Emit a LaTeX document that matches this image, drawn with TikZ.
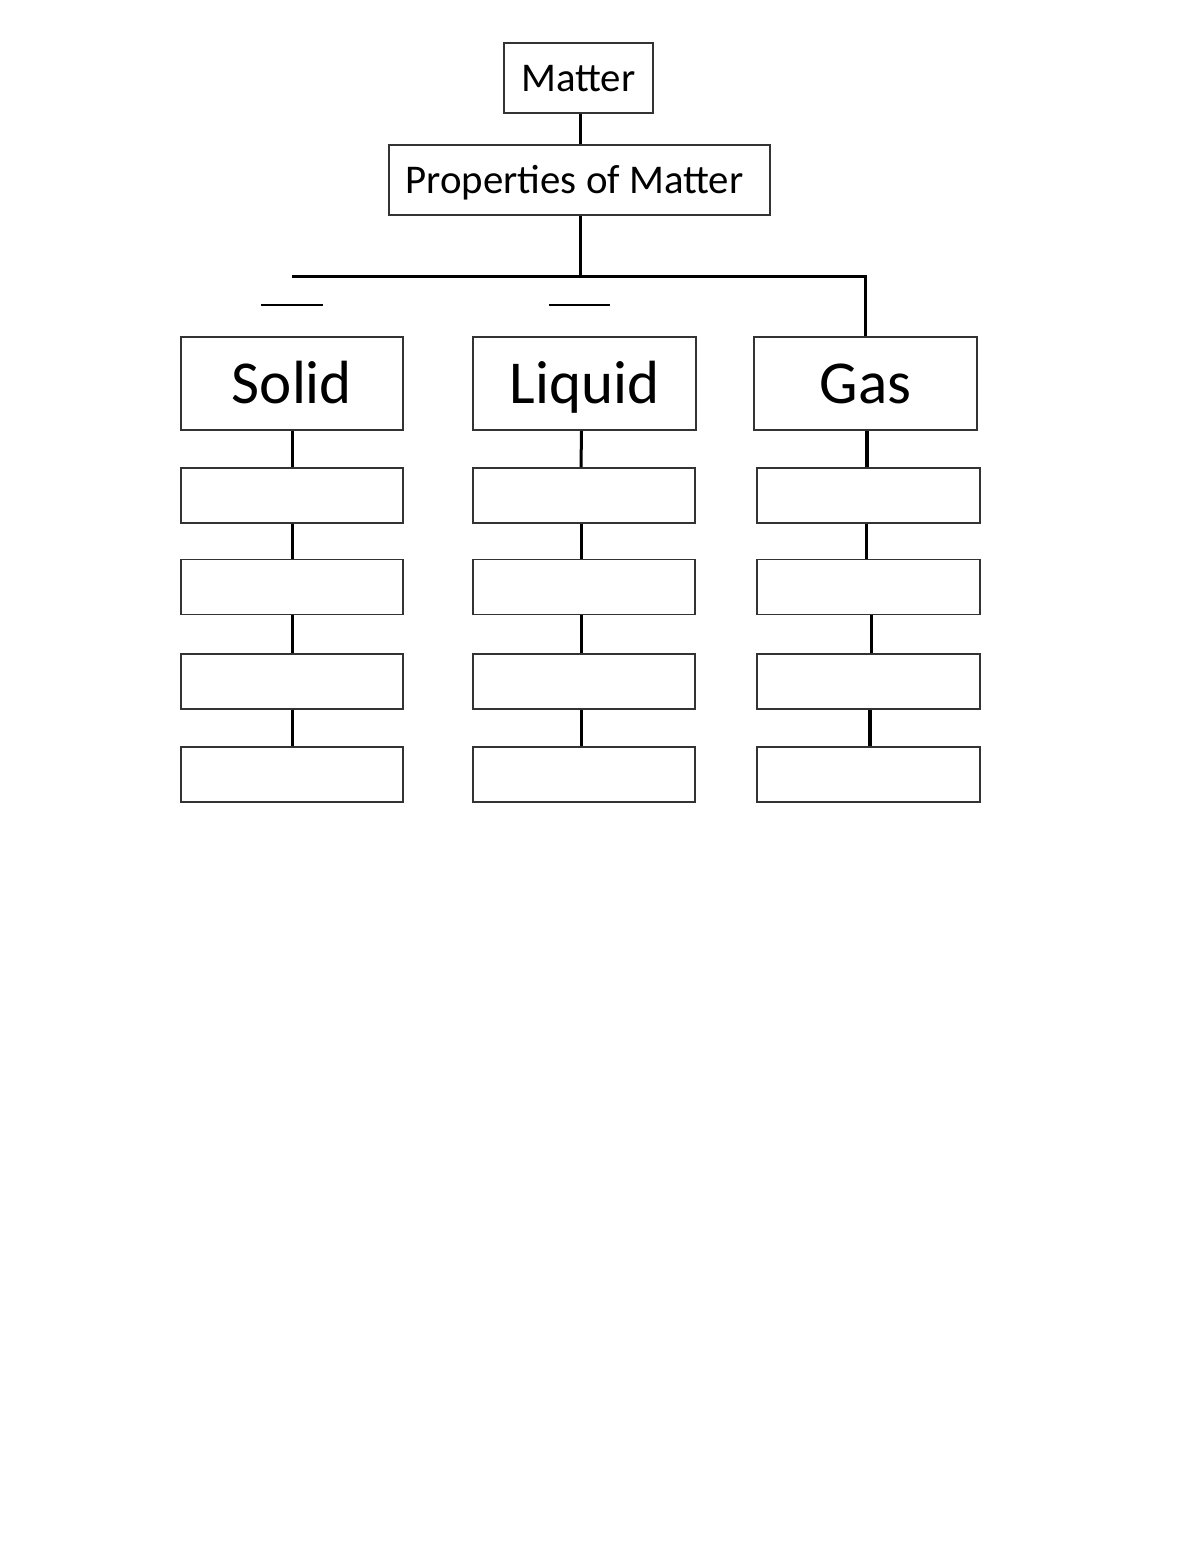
\documentclass[tikz,border=0pt]{standalone}
\usepackage{fontspec}
\setmainfont{Carlito}
\begin{document}
\begin{tikzpicture}[x=0.5pt,y=-0.5pt,
  box/.style={draw=black!80, line width=0.8pt, rectangle, inner sep=0pt, fill=white},
  mid/.style={font=\fontsize{20.4}{24}\selectfont, text height=13.1pt, text depth=0pt},
  big/.style={font=\fontsize{30.5}{36}\selectfont, text height=19.6pt, text depth=0pt},
  conn/.style={line width=1.5pt, black},
  thin/.style={line width=1.3pt, black}]
\useasboundingbox (0,0) rectangle (1200,1553);
\fill[white] (0,0) rectangle (1200,1553);
% top
\node[box, mid, minimum width=74.5pt, minimum height=35pt] (matter) at (578.5,78) {Matter};
\node[box, mid, minimum width=190.5pt, minimum height=35pt] (props) at (579.5,180) {Properties of Matter\hspace*{5pt}};
% categories
\node[box, big, minimum width=111pt, minimum height=46.5pt] (solid) at (292,383.5) {Solid};
\node[box, big, minimum width=111.5pt, minimum height=46.5pt] (liquid) at (584.5,383.5) {Liquid};
\node[box, big, minimum width=111.5pt, minimum height=46.5pt] (gas) at (865.5,383.5) {Gas};
% empty boxes
\foreach \r/\y in {1/495.5,2/587,3/681.5,4/774.5}{
  \node[box, minimum width=111pt, minimum height=27.5pt] (s\r) at (292,\y) {};
  \node[box, minimum width=111pt, minimum height=27.5pt] (l\r) at (584,\y) {};
  \node[box, minimum width=111.5pt, minimum height=27.5pt] (g\r) at (868.5,\y) {};
}
% tree connectors
\coordinate (hl) at (292,276);
\coordinate (hm) at (580,276);
\coordinate (hr) at (865,276);
\draw[conn] (matter.south -| hm) -- (props.north -| hm);
\draw[conn] (props.south -| hm) -- (hm);
\draw[conn] (hl) -- (hr) -- (hr |- gas.north);
\coordinate (a1) at (261,305); \coordinate (a2) at (323,305);
\coordinate (b1) at (549,305); \coordinate (b2) at (610,305);
\draw[thin] (a1) -- (a2);
\draw[thin] (b1) -- (b2);
% column connectors
\draw[conn] (solid.south) -- (s1.north);
\draw[conn] (s1.south) -- (s2.north);
\draw[conn] (s2.south) -- (s3.north);
\draw[conn] (s3.south) -- (s4.north);
\draw[conn] ([xshift=-1.5pt]liquid.south) -- ([xshift=-1.5pt]l1.north);
\draw[conn] ([xshift=-1.5pt]l1.south) -- ([xshift=-1.5pt]l2.north);
\draw[conn] ([xshift=-1.5pt]l2.south) -- ([xshift=-1.5pt]l3.north);
\draw[conn] ([xshift=-1.5pt]l3.south) -- ([xshift=-1.5pt]l4.north);
\draw[conn, line width=1.8pt] ([xshift=0.75pt]gas.south) -- ([xshift=-0.75pt]g1.north);
\draw[conn] ([xshift=-1.25pt]g1.south) -- ([xshift=-1.25pt]g2.north);
\draw[conn] ([xshift=1.25pt]g2.south) -- ([xshift=1.25pt]g3.north);
\draw[conn, line width=1.8pt] ([xshift=0.75pt]g3.south) -- ([xshift=0.75pt]g4.north);
\end{tikzpicture}
\end{document}
